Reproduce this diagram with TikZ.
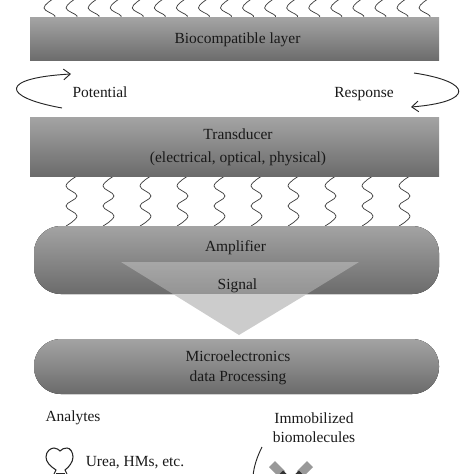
\documentclass[tikz,border=0pt]{standalone}
\usepackage{fontspec}
\setmainfont{Liberation Serif}
\usetikzlibrary{arrows.meta}
\tikzstyle{bar} = [inner sep=0pt, top color=black!36, bottom color=black!58]
\tikzstyle{label} = [font=\fontsize{11.6}{14}\selectfont, text=black!90, anchor=base]
\tikzstyle{wiggle} = [black!75, line width=0.55pt]
\tikzstyle{turn} = [-{Straight Barb[length=5pt,width=8pt]}, black!85, line width=0.7pt]

\begin{document}
\begin{tikzpicture}[x=0.75pt,y=-0.75pt]
\useasboundingbox (0,0) rectangle (474,474);
% wiggles on the layers
\foreach \x in {0,...,17} \draw[wiggle] plot[smooth, tension=0.7] coordinates {({53+\x*22.06},-1) ({44+\x*22.06},8) ({55+\x*22.06},16) ({50+\x*22.06},20)};
\foreach \x in {0,...,9} \draw[wiggle] plot[smooth, tension=0.7] coordinates {({77+\x*37},176) ({66+\x*37},186) ({77+\x*37},196) ({66+\x*37},206) ({77+\x*37},216) ({66+\x*37},226)};
\fill[bar] (30,18) rectangle (439,61);
\fill[bar] (30,118) rectangle (439,176);
\fill[bar, rounded corners=20] (34,226) rectangle (439,294);
\fill[bar, rounded corners=20] (34,339) rectangle (439,394);
% signal triangle
\fill[white, opacity=0.28] (121,262) -- (359,262) -- (307,294) -- (173,294) -- cycle;
\fill[black!20] (173,294) -- (307,294) -- (239,335) -- cycle;
\node[label] (bio) at (237.5,44) {Biocompatible layer};
\node[label] (trans) at (238,139) {Transducer};
\node[label] (phys) at (238,162) {(electrical, optical, physical)};
\node[label] (amp) at (235.5,251) {Amplifier};
\node[label] (sig) at (237.5,289) {Signal};
\node[label] (micro) at (238,361) {Microelectronics};
\node[label] (data) at (238,381) {data Processing};
\node[label] (pot) at (100,98) {Potential};
\node[label] (resp) at (364,98) {Response};
\node[label] (ana) at (73,421) {Analytes};
\node[label] (imm) at (314,423) {Immobilized};
\node[label] (biom) at (314,442) {biomolecules};
\node[label] (urea) at (135,466) {Urea, HMs, etc.};
% arrows
\coordinate (pota) at (62,108);
\coordinate (potb) at (71,74);
\coordinate (respa) at (414,73);
\coordinate (respb) at (411,107);
\draw[turn] (pota) .. controls (1,97) and (-1,78) .. (potb);
\draw[turn] (respa) .. controls (474,82) and (474,102) .. (respb);
% analyte
\draw[black!85, line width=0.8pt] (54,474) -- (56,470) .. controls (50,466) and (46,462) .. (46,457) .. controls (46,451) and (51,448) .. (54,448) .. controls (57,448) and (59,450) .. (60,451) .. controls (62,449) and (64,448) .. (67,448) .. controls (70,448) and (73,452) .. (73,457) .. controls (73,462) and (69,467) .. (65,470) -- (67,474);
\fill[black!85] (56,473) rectangle (65,474);
% antibody and its support
\draw[black!85, line width=0.7pt] (262,447) .. controls (257,457) and (254,466) .. (253,476);
\fill[black!40] (269,467) -- (275,461) -- (285,471) -- (279,477) -- cycle;
\fill[black!40] (313,467) -- (307,461) -- (297,471) -- (303,477) -- cycle;
\fill[black!80] (278.5,475) -- (283,470.5) -- (296,483) -- (291,488) -- cycle;
\fill[black!80] (303.5,475) -- (299,470.5) -- (286,483) -- (291,488) -- cycle;
\end{tikzpicture}
\end{document}
